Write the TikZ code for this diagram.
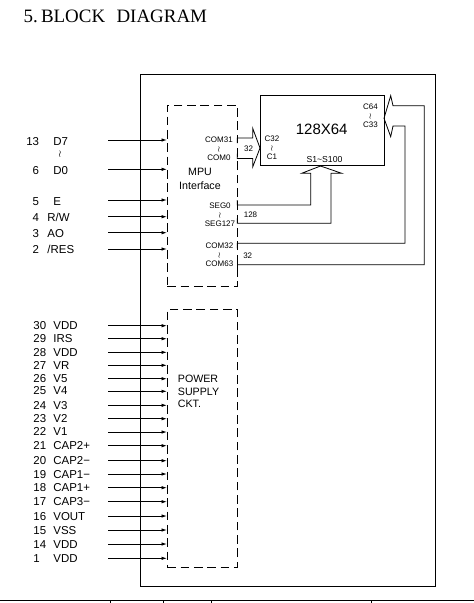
\documentclass[tikz,border=0pt]{standalone}
\usepackage{amsmath}
\usepackage{amssymb}
\usepackage{fontspec}
\setmainfont{Liberation Sans}
\newfontfamily\titlefont{Liberation Serif}
\usetikzlibrary{arrows.meta}

\begin{document}
\begin{tikzpicture}[x=0.75pt,y=0.75pt,yscale=-1,xscale=1,line width=0.6pt,
  pinlbl/.style={anchor=west,inner sep=0pt,text height=6.2pt,text depth=0pt,font=\fontsize{8.6}{10}\selectfont},
  pinnum/.style={pinlbl,anchor=east},
  pinarrow/.style={-{Latex[length=4pt,width=2.6pt]}},
  dashbox/.style={draw,dash pattern=on 6.5pt off 3.5pt,inner sep=0pt},
  solidbox/.style={draw,inner sep=0pt},
  smalllbl/.style={inner sep=0pt,align=center,font=\fontsize{6}{6.8}\selectfont},
  boxtxt/.style={inner sep=0pt,font=\fontsize{8}{10.7}\selectfont}]
\useasboundingbox (0,0) rectangle (474,603);

% Text Node
\draw (23.3,22.7) node [anchor=base west,inner sep=0pt,font=\titlefont\fontsize{14.2}{16}\selectfont] (title) {5.\,BLOCK\hspace{0.6em}DIAGRAM};

%Shape: Rectangle
\node [solidbox,minimum width=220.7pt,minimum height=384pt] (module) at (287.85,330) {};
%Shape: Rectangle
\node [dashbox,minimum width=52.5pt,minimum height=136.3pt] (mpu) at (202.3,195.85) {};
%Shape: Rectangle
\node [dashbox,minimum width=52.5pt,minimum height=193.3pt] (psu) at (202.3,438.2) {};
%Shape: Rectangle
\node [solidbox,minimum width=93pt,minimum height=53pt] (lcd) at (322,130.35) {};

% Text Node
\draw (200,178.8) node [boxtxt,align=center] (mputxt) {MPU\\Interface};
% Text Node
\draw (177.5,391.7) node [boxtxt,anchor=west,align=left,font=\fontsize{8}{9.3}\selectfont] (psutxt) {POWER\\SUPPLY\\CKT.};
% Text Node
\draw (321.7,129.3) node [inner sep=0pt,font=\fontsize{11.25}{12}\selectfont] (lcdtxt) {128X64};
% Text Node
\draw (324.5,160) node [inner sep=0pt,font=\fontsize{6.5}{7}\selectfont] (segtxt) {S1\textasciitilde S100};
% Text Node
\draw (272,148) node [smalllbl] (ctxt) {C32\\$\wr$\\C1};
% Text Node
\draw (370.5,116) node [smalllbl] (ctxt2) {C64\\$\wr$\\C33};
% Text Node
\draw (219,148.5) node [smalllbl] (comtxt) {COM31\\$\wr$\\COM0};
% Text Node
\draw (220,215) node [smalllbl] (segpins) {SEG0\\$\wr$\\SEG127};
% Text Node
\draw (219.5,254.5) node [smalllbl] (comtxt2) {COM32\\$\wr$\\COM63};
% Text Node
\draw (248.5,148.5) node [smalllbl] (bus32) {32};
% Text Node
\draw (250.5,214.3) node [smalllbl] (bus128) {128};
% Text Node
\draw (247.7,255.7) node [smalllbl] (bus32b) {32};

%Bus arrow COM0-COM31 to C1-C32
\draw (237.3,143) -- (237.3,138) -- (252.7,138) -- (252.7,128.3) -- (260,148) -- (252.7,167) -- (252.7,158.5) -- (237.3,158.5) -- (237.3,153.5);
%Bus arrow SEG0-SEG127 to S1-S100
\draw (237.3,200) -- (237.3,205) -- (310.7,205) -- (310.7,173.3) -- (301.7,173.3) -- (320.5,166) -- (341.7,173.3) -- (331,173.3) -- (331,223.3) -- (237.3,223.3) -- (237.3,218.3);
%Bus arrow COM32-COM63 to C33-C64
\draw (237.3,248.3) -- (237.3,243.3) -- (405,243.3) -- (405,126) -- (393,126) -- (390.7,136.7) -- (384,118.3) -- (390.7,95.7) -- (393,105.7) -- (424.3,105.7) -- (424.3,264.7) -- (237.3,264.7);
\draw (237.3,259.7) -- (237.3,269.7);

% MPU pins
\draw (39.5,141) node [pinnum] (n13) {13};
\draw (53,141) node [pinlbl] (d7) {D7};
\draw (60,154.3) node [inner sep=0pt,font=\fontsize{7}{7}\selectfont] (dwr) {$\wr$};
\draw (39.5,170) node [pinnum] (n6) {6};
\draw (53,170) node [pinlbl] (d0) {D0};
\draw (39.5,201.7) node [pinnum] (n5) {5};
\draw (53,201.7) node [pinlbl] (e) {E};
\draw (39.5,217.3) node [pinnum] (n4) {4};
\draw (47,217.3) node [pinlbl] (rw) {R/W};
\draw (39.5,233.3) node [pinnum] (n3) {3};
\draw (47,233.3) node [pinlbl] (ao) {AO};
\draw (39.5,249.3) node [pinnum] (n2) {2};
\draw (47,249.3) node [pinlbl] (res) {/RES};

\coordinate (a13) at (108.3,140); \draw [pinarrow] (a13) -- (a13 -| mpu.west);
\coordinate (a6) at (108.3,169.3); \draw [pinarrow] (a6) -- (a6 -| mpu.west);
\coordinate (a5) at (108.3,200); \draw [pinarrow] (a5) -- (a5 -| mpu.west);
\coordinate (a4) at (108.3,216.7); \draw [pinarrow] (a4) -- (a4 -| mpu.west);
\coordinate (a3) at (108.3,232.7); \draw [pinarrow] (a3) -- (a3 -| mpu.west);
\coordinate (a2) at (108.3,249); \draw [pinarrow] (a2) -- (a2 -| mpu.west);

% Power pins
\draw (33,325) node [pinlbl] (n30) {30};
\draw (53,325) node [pinlbl] (vdd30) {VDD};
\draw (33,338.3) node [pinlbl] (n29) {29};
\draw (53,338.3) node [pinlbl] (irs) {IRS};
\draw (33,352.3) node [pinlbl] (n28) {28};
\draw (53,352.3) node [pinlbl] (vdd28) {VDD};
\draw (33,365) node [pinlbl] (n27) {27};
\draw (53,365) node [pinlbl] (vr) {VR};
\draw (33,378.3) node [pinlbl] (n26) {26};
\draw (53,378.3) node [pinlbl] (v5) {V5};
\draw (33,390.7) node [pinlbl] (n25) {25};
\draw (53,390.7) node [pinlbl] (v4) {V4};
\draw (33,405) node [pinlbl] (n24) {24};
\draw (53,405) node [pinlbl] (v3) {V3};
\draw (33,418.3) node [pinlbl] (n23) {23};
\draw (53,418.3) node [pinlbl] (v2) {V2};
\draw (33,431.7) node [pinlbl] (n22) {22};
\draw (53,431.7) node [pinlbl] (v1) {V1};
\draw (33,445.7) node [pinlbl] (n21) {21};
\draw (53,445.7) node [pinlbl] (cap2p) {CAP2+};
\draw (33,460.7) node [pinlbl] (n20) {20};
\draw (53,460.7) node [pinlbl] (cap2m) {CAP2−};
\draw (33,474) node [pinlbl] (n19) {19};
\draw (53,474) node [pinlbl] (cap1m) {CAP1−};
\draw (33,487.7) node [pinlbl] (n18) {18};
\draw (53,487.7) node [pinlbl] (cap1p) {CAP1+};
\draw (33,501.7) node [pinlbl] (n17) {17};
\draw (53,501.7) node [pinlbl] (cap3m) {CAP3−};
\draw (33,516) node [pinlbl] (n16) {16};
\draw (53,516) node [pinlbl] (vout) {VOUT};
\draw (33,530) node [pinlbl] (n15) {15};
\draw (53,530) node [pinlbl] (vss) {VSS};
\draw (33,544) node [pinlbl] (n14) {14};
\draw (53,544) node [pinlbl] (vdd14) {VDD};
\draw (33,558.3) node [pinlbl] (n1) {1};
\draw (53,558.3) node [pinlbl] (vdd1) {VDD};

\coordinate (a30) at (108.3,325.7); \draw [pinarrow] (a30) -- (a30 -| psu.west);
\coordinate (a29) at (108.3,338.7); \draw [pinarrow] (a29) -- (a29 -| psu.west);
\coordinate (a28) at (108.3,352.3); \draw [pinarrow] (a28) -- (a28 -| psu.west);
\coordinate (a27) at (108.3,365.3); \draw [pinarrow] (a27) -- (a27 -| psu.west);
\coordinate (a26) at (108.3,378.7); \draw [pinarrow] (a26) -- (a26 -| psu.west);
\coordinate (a25) at (108.3,391.3); \draw [pinarrow] (a25) -- (a25 -| psu.west);
\coordinate (a24) at (108.3,405.3); \draw [pinarrow] (a24) -- (a24 -| psu.west);
\coordinate (a23) at (108.3,418.7); \draw [pinarrow] (a23) -- (a23 -| psu.west);
\coordinate (a22) at (108.3,432); \draw [pinarrow] (a22) -- (a22 -| psu.west);
\coordinate (a21) at (108.3,445.7); \draw [pinarrow] (a21) -- (a21 -| psu.west);
\coordinate (a20) at (108.3,460.7); \draw [pinarrow] (a20) -- (a20 -| psu.west);
\coordinate (a19) at (108.3,474); \draw [pinarrow] (a19) -- (a19 -| psu.west);
\coordinate (a18) at (108.3,487.7); \draw [pinarrow] (a18) -- (a18 -| psu.west);
\coordinate (a17) at (108.3,501.7); \draw [pinarrow] (a17) -- (a17 -| psu.west);
\coordinate (a16) at (108.3,516); \draw [pinarrow] (a16) -- (a16 -| psu.west);
\coordinate (a15) at (108.3,530); \draw [pinarrow] (a15) -- (a15 -| psu.west);
\coordinate (a14) at (108.3,544); \draw [pinarrow] (a14) -- (a14 -| psu.west);
\coordinate (a1) at (108.3,558.3); \draw [pinarrow] (a1) -- (a1 -| psu.west);

%Straight Lines (table edge)
\draw (0,600.3) -- (474,600.3);
\draw (110,600.3) -- (110,603);
\draw (163.3,600.3) -- (163.3,603);
\draw (211.7,600.3) -- (211.7,603);
\draw (371.7,600.3) -- (371.7,603);

\end{tikzpicture}
\end{document}
